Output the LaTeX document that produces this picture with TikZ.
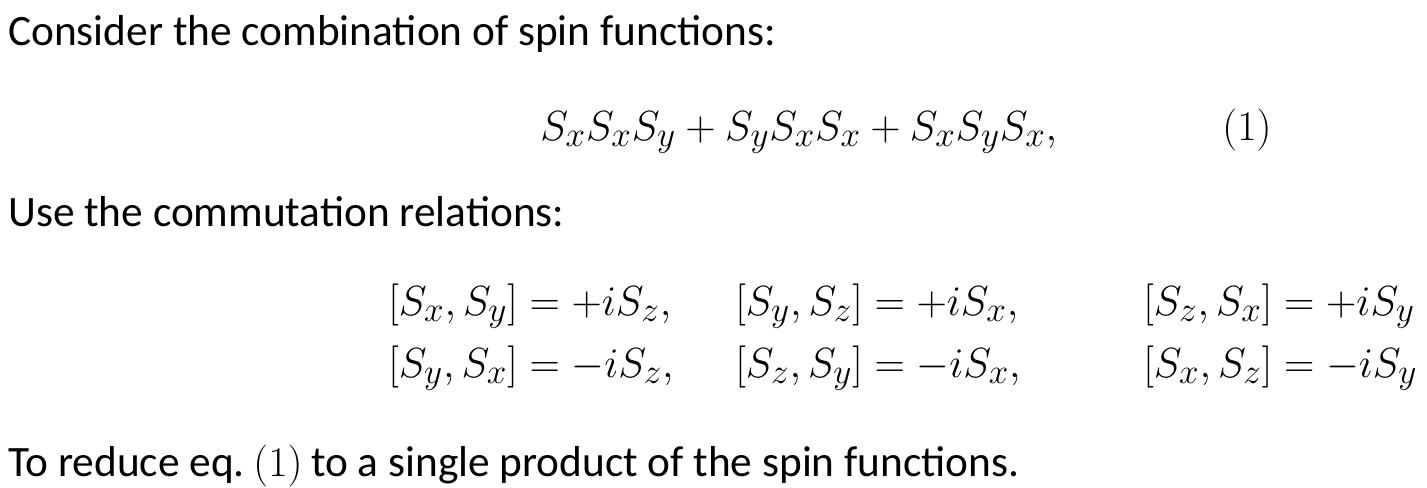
\documentclass[tikz,border=0pt]{standalone}
\usepackage{fontspec}
\setmainfont{Carlito}
\begin{document}
\begin{tikzpicture}[x=0.75pt,y=-0.75pt,
  txt/.style={anchor=base west,inner sep=0pt,font=\fontsize{32.5}{38}\selectfont},
  mth/.style={anchor=base west,inner sep=0pt,font=\fontsize{24.88}{30}\selectfont,scale=1.27,transform shape}]
\useasboundingbox (0,0) rectangle (1427,487);
\node[txt] (l1) at (8,45) {Consider the combination of spin functions:};
\node[mth] (eq) at (540,140) {$S_xS_xS_y+S_yS_xS_x+S_xS_yS_x,$};
\node[mth] (n1) at (1222,140) {$(1)$};
\node[txt] (l2) at (8,226) {Use the commutation relations:};
\node[mth] (a1) at (388,315) {$\bigl[S_x,S_y\bigr]=+iS_z,$};
\node[mth] (b1) at (735,315) {$\bigl[S_y,S_z\bigr]=+iS_x,$};
\node[mth] (c1) at (1143,315) {$[S_z,S_x]=+iS_y$};
\node[mth] (a2) at (388,377) {$\bigl[S_y,S_x\bigr]=-iS_z,$};
\node[mth] (b2) at (735,377) {$\bigl[S_z,S_y\bigr]=-iS_x,$};
\node[mth] (c2) at (1143,377) {$[S_x,S_z]=-iS_y$};
\node[txt] (l3a) at (8,476) {To reduce eq.};
\node[mth] (l3b) at ([xshift=6pt]l3a.base east) {$(1)$};
\node[txt] (l3c) at ([xshift=6pt]l3b.base east) {to a single product of the spin functions.};
\end{tikzpicture}
\end{document}
